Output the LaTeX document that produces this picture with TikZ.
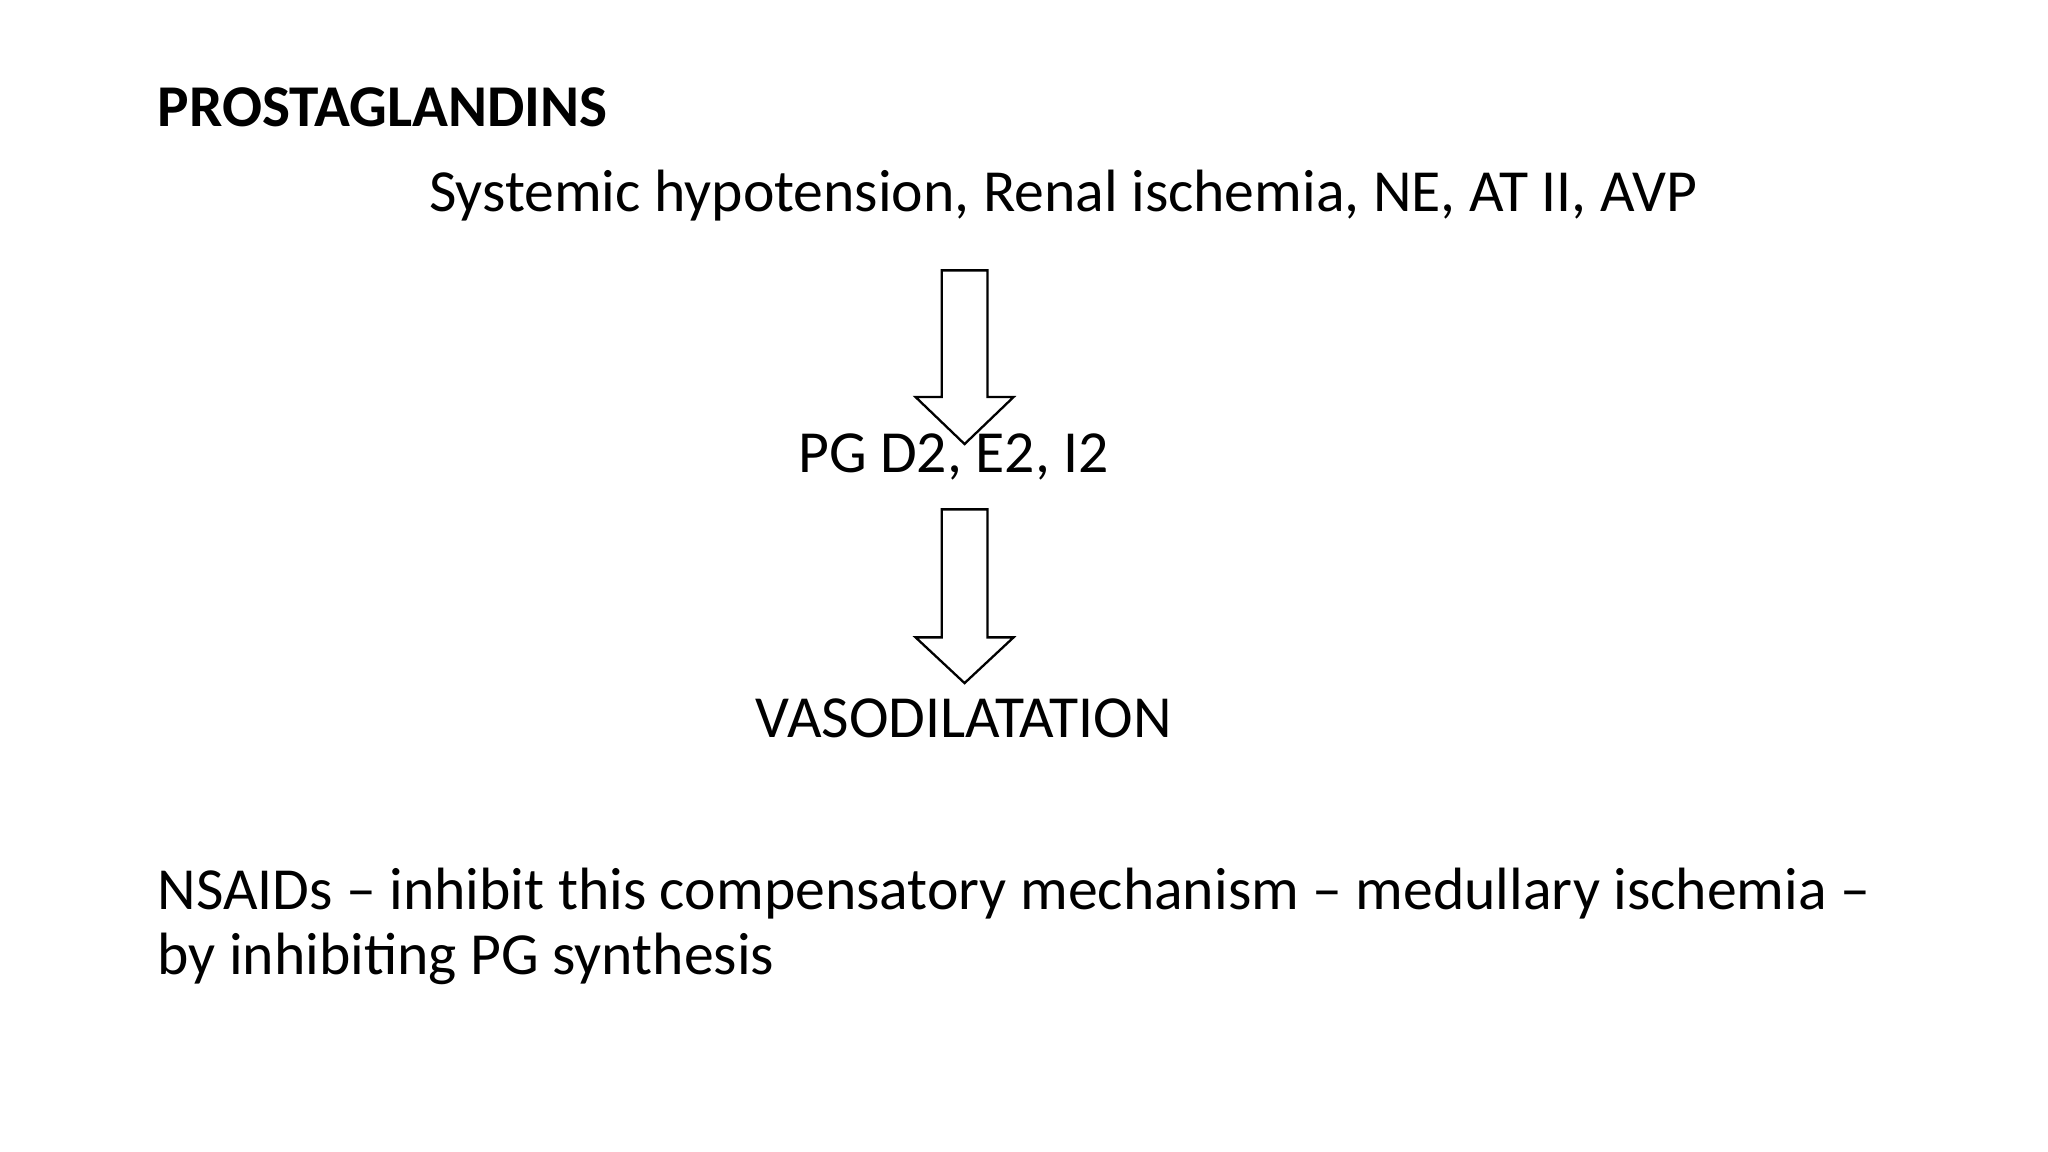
\documentclass[tikz,border=0pt]{standalone}
\usepackage{fontspec}
\setmainfont{Carlito}
\begin{document}
\begin{tikzpicture}[x=0.01cm,y=-0.01cm,
  txt/.style={inner sep=0pt,font=\fontsize{13pt}{14.2pt}\selectfont},
  bigarrow/.style={draw=black,line width=0.5pt,fill=white}]
\useasboundingbox (0,0) rectangle (1568,882);
\node[txt,anchor=west,font=\fontsize{12.9pt}{14pt}\selectfont\bfseries] (title) at (120,82) {PROSTAGLANDINS};
\node[txt] (cause) at (814,150) {Systemic hypotension, Renal ischemia, NE, AT II, AVP};
\node[txt] (pg) at (730,350) {PG D2, E2, I2};
\node[txt] (vaso) at (738,550) {VASODILATATION};
\node[txt,anchor=north west,align=left] (nsaid) at (120,664) {NSAIDs – inhibit this compensatory mechanism – medullary ischemia –\\by inhibiting PG synthesis};
\draw[bigarrow] (721,207) -- (756,207) -- (756,304) -- (776,304) -- (738.5,340) -- (701,304) -- (721,304) -- cycle;
\draw[bigarrow] (721,390) -- (756,390) -- (756,488) -- (776,488) -- (738.5,523) -- (701,488) -- (721,488) -- cycle;
\end{tikzpicture}
\end{document}
